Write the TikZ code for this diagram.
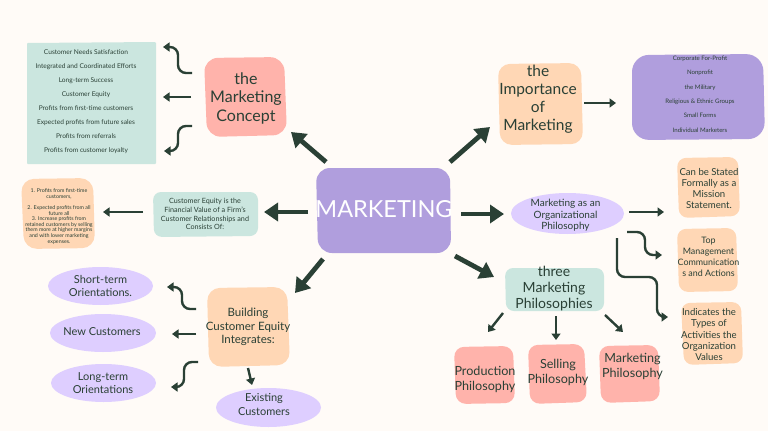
\documentclass[tikz,border=0pt]{standalone}
\usepackage{fontspec}
\setmainfont{Lato}
\usetikzlibrary{arrows.meta,fit,shapes.geometric}
\definecolor{bgc}{HTML}{FFFBF7}
\definecolor{ink}{HTML}{2A4035}
\definecolor{pinkc}{HTML}{FFB3AB}
\definecolor{peachc}{HTML}{FFD7B5}
\definecolor{mintc}{HTML}{CBE6DF}
\definecolor{violetc}{HTML}{B09EDD}
\definecolor{lilacc}{HTML}{DECEFF}
\tikzset{
  bigarrow/.style={draw=ink,line width=4.8pt,-{Triangle[length=14pt,width=18pt]}},
  thinarrow/.style={draw=ink,line width=2.4pt,-{Triangle[length=6.5pt,width=9pt]},rounded corners=8pt},
  anchorbox/.style={inner sep=0pt,outer sep=0pt},
  lab/.style 2 args={text=ink,align=center,inner sep=0pt,font=\fontsize{#1pt}{#2pt}\selectfont},
  oval/.style={ellipse,fill=lilacc,inner sep=0pt,outer sep=0pt},
}
% name, colour, radius, four corners
\newcommand{\blob}[7]{%
  \fill[#2,rounded corners=#3pt] (#4) -- (#5) -- (#6) -- (#7) -- cycle;
  \coordinate (p1) at (#4);\coordinate (p2) at (#5);\coordinate (p3) at (#6);\coordinate (p4) at (#7);
  \node[anchorbox,fit=(p1)(p2)(p3)(p4)] (#1) {};
}
\begin{document}
\begin{tikzpicture}[x=1pt,y=-1pt]
\useasboundingbox (0,0) rectangle (768,431);
\fill[bgc] (0,0) rectangle (768,431);

% boxes
\blob{hub}{violetc}{14}{316,168}{450,168}{451,253}{318,253}
\blob{concept}{pinkc}{14}{204,58}{284,57}{287,135}{207,137}
\blob{mintlist}{mintc}{1}{27,43}{156,42}{156,164}{27,164}
\blob{equity}{peachc}{13}{21,179}{93,178}{95,248}{24,249}
\blob{ce}{mintc}{8}{153,192}{258,192}{258,236}{154,237}
\blob{importance}{peachc}{12}{498,64}{581,63}{583,144}{500,145}
\blob{grouplist}{violetc}{17}{632,55}{763,54}{765,139}{632,140}
\blob{canbe}{peachc}{9}{677,158}{738,157}{740,216}{679,218}
\blob{topm}{peachc}{9}{677,229}{736,228}{738,291}{679,292}
\blob{indicates}{peachc}{9}{681,303}{741,302}{743,363}{684,365}
\blob{three}{mintc}{8}{505,268}{604,268}{604,311}{506,311}
\blob{production}{pinkc}{10}{454,347}{513,346}{515,403}{456,404}
\blob{selling}{pinkc}{10}{528,345}{584,344}{587,402}{530,404}
\blob{mktphil}{pinkc}{10}{599,346}{658,345}{660,401}{601,403}
\blob{build}{peachc}{13}{207,288}{287,287}{290,365}{209,367}

\node[oval,minimum width=113pt,minimum height=41pt] (org) at (567.5,213.5) {};
\node[oval,minimum width=105pt,minimum height=38pt] (short) at (100.5,286) {};
\node[oval,minimum width=106pt,minimum height=38pt] (newc) at (103,333) {};
\node[oval,minimum width=105pt,minimum height=38pt] (long) at (103.5,383) {};
\node[oval,minimum width=105pt,minimum height=39pt] (existing) at (268.5,407.5) {};

% texts
\node[lab={23.5}{26},text=white] (hub-t) at (384,209) {MARKETING};
\node[lab={16}{18.5}] (concept-t) at (246,98) {the\\Marketing\\Concept};
\node[lab={6.6}{13.9}] (mintlist-t) at (86,101.5) {Customer Needs Satisfaction\\Integrated and Coordinated Efforts\\Long-term Success\\Customer Equity\\Profits from first-time customers\\Expected profits from future sales\\Profits from referrals\\Profits from customer loyalty};
\node[lab={5.3}{5.6}] (equity-t) at (59,216.5) {1. Profits from first-time\\customers,\\~\\2. Expected profits from all\\future all\\3. Increase profits from\\retained customers by selling\\them more at higher margins\\and with lower marketing\\expenses.};
\node[lab={7.2}{8.8}] (ce-t) at (205,214) {Customer Equity is the\\Financial Value of a Firm's\\Customer Relationships and\\Consists Of:};
\node[lab={15.5}{18}] (importance-t) at (538,99) {the\\Importance\\of\\Marketing};
\node[lab={6.1}{14.4}] (grouplist-t) at (700,94) {Corporate For-Profit\\Nonprofit\\the Military\\Religious \& Ethnic Groups\\Small Forms\\Individual Marketers};
\node[lab={10}{11.5}] (org-t) at (565.5,215.5) {Marketing as an\\Organizational\\Philosophy};
\node[lab={9.6}{11}] (canbe-t) at (709,188.5) {Can be Stated\\Formally as a\\Mission\\Statement.};
\node[lab={8.9}{11}] (topm-t) at (708.5,256.5) {Top\\Management\\Communication\\s and Actions};
\node[lab={9.6}{11.2}] (indicates-t) at (709,334.5) {Indicates the\\Types of\\Activities the\\Organization\\Values};
\node[lab={14}{16}] (three-t) at (554,289) {three\\Marketing\\Philosophies};
\node[lab={12.6}{15}] (production-t) at (485,379.5) {Production\\Philosophy};
\node[lab={12.6}{15}] (selling-t) at (558,372.5) {Selling\\Philosophy};
\node[lab={12.6}{15}] (mktphil-t) at (632.5,366.5) {Marketing\\Philosophy};
\node[lab={11.5}{13.5}] (build-t) at (248,327) {Building\\Customer Equity\\Integrates:};
\node[lab={11}{13.5}] (short-t) at (100.5,286) {Short-term\\Orientations.};
\node[lab={11}{13}] (newc-t) at (102,332) {New Customers};
\node[lab={11}{13}] (long-t) at (103,383) {Long-term\\Orientations};
\node[lab={11}{13.5}] (existing-t) at (264,404.5) {Existing\\Customers};

% big connectors
\draw[bigarrow] ([shift={(10,-6)}]hub.north west) -- ([shift={(87,75)}]concept.north west);
\draw[bigarrow] ([shift={(134,-6)}]hub.north west) -- ([shift={(-8,64)}]importance.north west);
\draw[bigarrow] ([shift={(-8,44)}]hub.north west) -- ([shift={(111,20)}]ce.north west);
\draw[bigarrow] ([shift={(7,91)}]hub.north west) -- ([shift={(88,6)}]build.north west);
\draw[bigarrow] ([shift={(145,46)}]hub.north west) -- ([shift={(-7,0.5)}]org.west);
\draw[bigarrow] ([shift={(139,88)}]hub.north west) -- ([shift={(-11,9)}]three.north west);

% thin connectors
\draw[thinarrow] ([shift={(-12,16)}]concept.north west) -- ++(-14,0) -- ++(0,-26) -- ([shift={(136,5)}]mintlist.north west);
\draw[thinarrow] ([shift={(-13,40)}]concept.north west) -- ([shift={(136,55)}]mintlist.north west);
\draw[thinarrow] ([shift={(-12,69)}]concept.north west) -- ++(-14,0) -- ++(0,25) -- ([shift={(137,109)}]mintlist.north west);
\draw[thinarrow] ([shift={(-10,20)}]ce.north west) -- ([shift={(82,34)}]equity.north west);
\draw[thinarrow] ([shift={(86,40)}]importance.north west) -- ([shift={(-16,49)}]grouplist.north west);
\draw[thinarrow] ([shift={(5,-1.5)}]org.east) -- ([shift={(-13,55)}]canbe.north west);
\draw[thinarrow] ([shift={(3,18.5)}]org.east) -- ++(18,0) -- ++(0,23) -- ([shift={(-15,27)}]topm.north west);
\draw[thinarrow] ([shift={(-7,24.5)}]org.east) -- ++(0,39) -- ++(40,0) -- ++(0,40) -- ([shift={(-13,15)}]indicates.north west);
\draw[thinarrow] ([shift={(-2,45)}]three.north west) -- ([shift={(34,-14)}]production.north west);
\draw[thinarrow] ([shift={(51,48)}]three.north west) -- ([shift={(28,-4)}]selling.north west);
\draw[thinarrow] ([shift={(100,47)}]three.north west) -- ([shift={(24,-13)}]mktphil.north west);
\draw[thinarrow] ([shift={(-11,22)}]build.north west) -- ++(-14,0) -- ++(0,-22) -- ([shift={(14,1)}]short.east);
\draw[thinarrow] ([shift={(-11,47)}]build.north west) -- ([shift={(16,1)}]newc.east);
\draw[thinarrow] ([shift={(-9,75)}]build.north west) -- ++(-14,0) -- ++(0,25) -- ([shift={(15,4)}]long.east);
\draw[thinarrow] ([shift={(41,81)}]build.north west) -- ([shift={(-16.5,-3)}]existing.north);
\end{tikzpicture}
\end{document}
